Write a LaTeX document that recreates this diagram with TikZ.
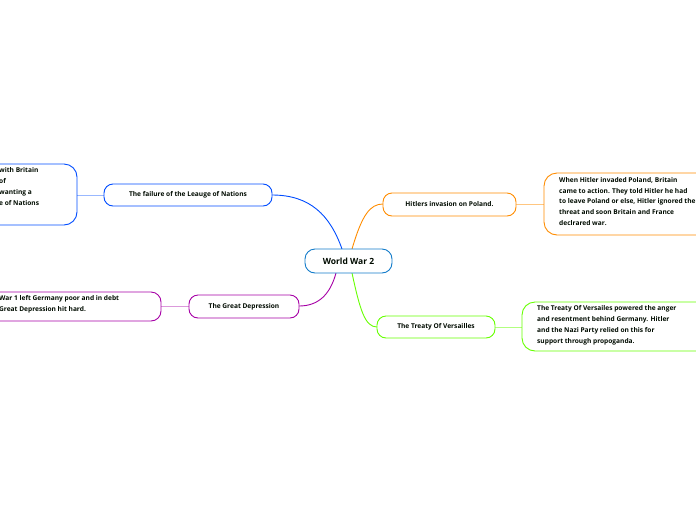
\documentclass[tikz,border=0pt]{standalone}
\usepackage{fontspec}
\setmainfont{Open Sans}
\begin{document}
\begin{tikzpicture}[x=1pt,y=-1pt,
  br/.style={draw=#1,line width=0.9pt,rounded corners=9pt,fill=white,font=\bfseries\fontsize{6.6}{8}\selectfont,text=black!85!green!30!black,inner sep=0pt,minimum height=22pt},
  lf/.style={draw=#1,line width=0.9pt,rounded corners=13pt,fill=white,inner sep=0pt,anchor=north west},
  lt/.style={font=\bfseries\fontsize{6.6}{10.8}\selectfont,text=black!85!green!30!black,align=left,anchor=north west,inner sep=0pt},
  cn/.style={line width=0.9pt,#1}]
\useasboundingbox (0,0) rectangle (696,520);
\clip (0,0) rectangle (696,520);
\colorlet{cb}{blue!70!cyan}
\colorlet{cp}{violet!70!magenta}
\colorlet{co}{orange!90!yellow}
\colorlet{cg}{green!60!yellow}
% connectors center-branch
\draw[cn=cb] (272,195) .. controls (310,195) and (330,215) .. (342,249);
\draw[cn=co] (352,249) .. controls (362,215) and (370,204) .. (383,204);
\draw[cn=cp] (299,306) .. controls (318,306) and (330,295) .. (336,273);
\draw[cn=cg] (352,273) .. controls (360,310) and (365,327) .. (377,327);
% branch-leaf lines
\draw[cn=cb!40] (77,195) -- (104,195);
\draw[cn=cp!40] (161,306) -- (189,306);
\draw[cn=co!50] (516,204) -- (544,204);
\draw[cn=cg!50] (495,327) -- (522,327);
% center
\node[br=cyan!60!blue,minimum width=87pt,minimum height=24pt,rounded corners=10pt,font=\bfseries\fontsize{8.5}{10}\selectfont] (c) at (348.5,261) {World War 2};
% branches
\node[br=cb,minimum width=168pt] (b1) at (188,195) {The failure of the Leauge of Nations};
\node[br=cp,minimum width=110pt,minimum height=23pt] (b2) at (244,306.5) {The Great Depression};
\node[br=co,minimum width=133pt,minimum height=23pt] (b3) at (449.5,204.5) {Hitlers invasion on Poland.};
\node[br=cg,minimum width=118pt] (b4) at (436,327) {The Treaty Of Versailles};
% leaves
\draw[cn=cb,rounded corners=13pt] (-40,164) rectangle (77,225);
\node[lt] (t1) at (-1,167.5) {with Britain\\of\\wanting a\\e of Nations};
\draw[cn=cp,rounded corners=10pt] (-40,292) rectangle (161,321);
\node[lt] (t2) at (-1,295) {War 1 left Germany poor and in debt\\Great Depression hit hard.};
\draw[cn=co,rounded corners=13pt] (544,173) rectangle (740,235);
\node[lt] (t3) at (559,177) {When Hitler invaded Poland, Britain\\came to action. They told Hitler he had\\to leave Poland or else, Hitler ignored the\\threat and soon Britain and France\\declrared war.};
\draw[cn=cg,rounded corners=13pt] (522,302) rectangle (740,351);
\node[lt] (t4) at (537,305.5) {The Treaty Of Versailes powered the anger\\and resentment behind Germany. Hitler\\and the Nazi Party relied on this for\\support through propoganda.};
\end{tikzpicture}
\end{document}
